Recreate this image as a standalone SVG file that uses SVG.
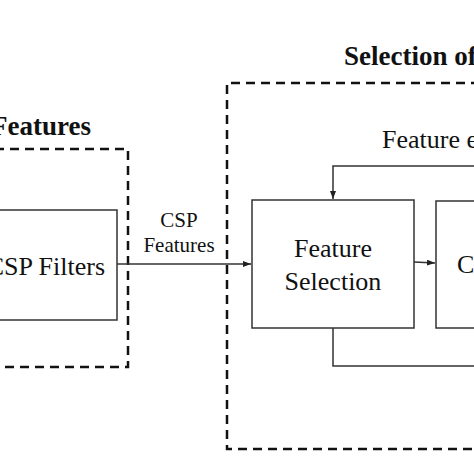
<svg xmlns="http://www.w3.org/2000/svg" width="474" height="474" viewBox="0 0 474 474">
<style>
.dash{fill:none;stroke:#111;stroke-width:2.5;stroke-dasharray:9,6}
.box{fill:#fff;stroke:#333;stroke-width:1.5}
.ln{fill:none;stroke:#333;stroke-width:1.5}
.t{font-family:"Liberation Serif","Times New Roman",serif;fill:#111}
.h{font-family:"Liberation Serif","Times New Roman",serif;font-weight:bold;fill:#111}
</style>
<defs>
<marker id="arr" markerWidth="8" markerHeight="6" refX="8" refY="3" orient="auto" markerUnits="userSpaceOnUse">
<path d="M0,0 L8,3 L0,6 z" fill="#222"/>
</marker>
</defs>
<rect width="474" height="474" fill="#fff"/>
<g id="group-features">
<path class="dash" d="M-5,149 H128 V367 H-5"/>
<text class="h" x="91" y="135" font-size="27" text-anchor="end">Features</text>
</g>
<g id="group-selection">
<path class="dash" d="M480,83 H227 V449 H480"/>
<text class="h" x="344" y="65" font-size="27">Selection of</text>
</g>
<g id="node-csp-filters">
<rect class="box" x="-10" y="210" width="127" height="110"/>
<text class="t" x="105" y="275" font-size="26" text-anchor="end">CSP Filters</text>
</g>
<g id="node-feature-selection">
<rect class="box" x="252" y="200" width="162" height="128"/>
<text class="t" x="333" y="257" font-size="26" text-anchor="middle">Feature</text>
<text class="t" x="333" y="290" font-size="26" text-anchor="middle">Selection</text>
</g>
<g id="node-c">
<rect class="box" x="436" y="201" width="60" height="127"/>
<text class="t" x="457" y="273" font-size="26">C</text>
</g>
<g id="connectors">
<line class="ln" x1="117" y1="264" x2="251" y2="264" marker-end="url(#arr)"/>
<text class="t" x="179" y="227" font-size="21" text-anchor="middle">CSP</text>
<text class="t" x="179" y="252" font-size="21" text-anchor="middle">Features</text>
<line class="ln" x1="414" y1="262" x2="435" y2="263" marker-end="url(#arr)"/>
<path class="ln" d="M480,166 H333 V199" marker-end="url(#arr)"/>
<text class="t" x="382" y="148" font-size="26">Feature e</text>
<path class="ln" d="M333,328 V366 H480"/>
</g>
</svg>
